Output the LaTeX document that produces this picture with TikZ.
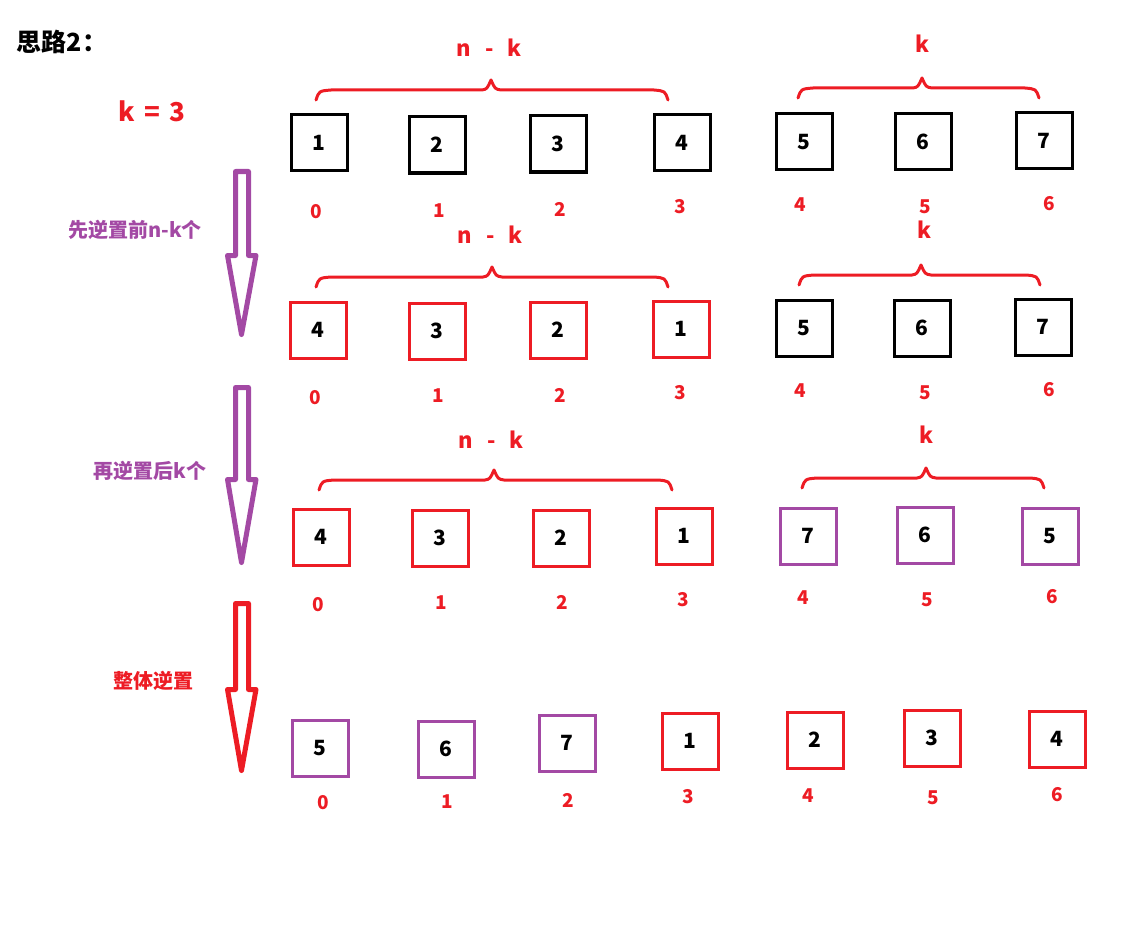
\documentclass[tikz,border=0pt]{standalone}
\usepackage{fontspec}
\setmainfont{Noto Sans CJK SC}
\usetikzlibrary{positioning}
\definecolor{cRed}{RGB}{237,28,36}
\definecolor{cPurple}{RGB}{163,73,164}
\tikzset{
	cell/.style     ={rectangle, draw, line width=3pt, minimum size=56pt, inner sep=0pt, font=\bfseries\fontsize{21}{21}\selectfont},
	idx/.style      ={text=cRed, font=\bfseries\fontsize{19}{19}\selectfont},
	bracetxt/.style ={text=cRed, font=\bfseries\fontsize{22}{22}\selectfont},
	steptxt/.style  ={font=\bfseries\fontsize{20}{20}\selectfont},
	% hand drawn braces and hollow arrows
	brace/.style    ={cRed, line width=3pt, line cap=round, line join=round},
	bigarrow/.style ={line width=5pt, line join=round},
}
\begin{document}
\begin{tikzpicture}[x=1pt, y=-1pt]
	\useasboundingbox (0,0) rectangle (1146,931);
	\node[font=\bfseries\fontsize{25}{25}\selectfont] (title) at (62,42) {思路2：};
	\node[text=cRed, font=\bfseries\fontsize{26}{26}\selectfont] (kval) at (152,111) {k\hspace{3pt} = \hspace{3pt}3};
	% cells: row/index/x/y/value/colour/label x/label y
	\foreach \r/\i/\x/\y/\v/\c/\ix/\iy in {
		1/0/319/143/1/black/316/212, 1/1/437/145/2/black/439/211, 1/2/558/144/3/black/560/209, 1/3/682/143/4/black/680/207,
		1/4/804/142/5/black/800/205, 1/5/923/142/6/black/925/207, 1/6/1044/141/7/black/1049/204,
		2/0/318/330/4/cRed/315/398, 2/1/437/331/3/cRed/438/396, 2/2/558/330/2/cRed/560/395, 2/3/681/329/1/cRed/680/393,
		2/4/804/328/5/black/800/391, 2/5/922/328/6/black/925/393, 2/6/1043/327/7/black/1049/390,
		3/0/321/537/4/cRed/318/605, 3/1/440/538/3/cRed/441/603, 3/2/561/538/2/cRed/562/602, 3/3/684/536/1/cRed/683/600,
		3/4/808/536/7/cPurple/803/598, 3/5/925/535/6/cPurple/927/600, 3/6/1050/536/5/cPurple/1052/597,
		4/0/320/748/5/cPurple/323/803, 4/1/446/749/6/cPurple/447/802, 4/2/567/743/7/cPurple/568/800, 4/3/690/741/1/cRed/688/797,
		4/4/815/740/2/cRed/808/796, 4/5/932/738/3/cRed/933/798, 4/6/1057/739/4/cRed/1057/795} {
		\node[cell, draw=\c] (c\r\i) at (\x,\y) {\v};
		\node[idx] (i\r\i) at (\ix,\iy) {\i};
	}
	% braces: left x/tip x/right x/end y
	\foreach \xl/\xm/\xr/\yb in {316/491/668/100, 798/922/1039/98, 316/492/668/287, 799/921/1040/285, 319/494/672/490, 802/926/1044/488}
		\draw[brace] (\xl,\yb) .. controls (\xl+3,\yb-9) .. (\xl+15,\yb-10) -- (\xm-9,\yb-10)
			.. controls (\xm-4,\yb-11) .. (\xm,\yb-20) .. controls (\xm+4,\yb-11) .. (\xm+10,\yb-10)
			-- (\xr-14,\yb-10) .. controls (\xr-3,\yb-9) .. (\xr,\yb);
	\node[bracetxt] (nk1) at (489,48) {n\hspace{14pt}-\hspace{14pt}k};
	\node[bracetxt] (k1) at (922,44) {k};
	\node[bracetxt] (nk2) at (490,235) {n\hspace{14pt}-\hspace{14pt}k};
	\node[bracetxt] (k2) at (924,230) {k};
	\node[bracetxt] (nk3) at (491,440) {n\hspace{14pt}-\hspace{14pt}k};
	\node[bracetxt] (k3) at (926,435) {k};
	% hollow arrows between the rows
	\foreach \top/\base/\tip/\col in {171.5/255.5/334.5/cPurple, 387.5/479.5/562.5/cPurple, 603.5/689.5/770.5/cRed}
		\draw[bigarrow, \col] (235.5,\top) -- (248.5,\top) -- (248.5,\base) -- (256,\base) -- (241.5,\tip)
			-- (227.5,\base) -- (235.5,\base) -- cycle;
	\node[steptxt, text=cPurple] (step1) at (135,230) {先逆置前n-k个};
	\node[steptxt, text=cPurple] (step2) at (150,471) {再逆置后k个};
	\node[steptxt, text=cRed] (step3) at (153,681) {整体逆置};
\end{tikzpicture}
\end{document}
